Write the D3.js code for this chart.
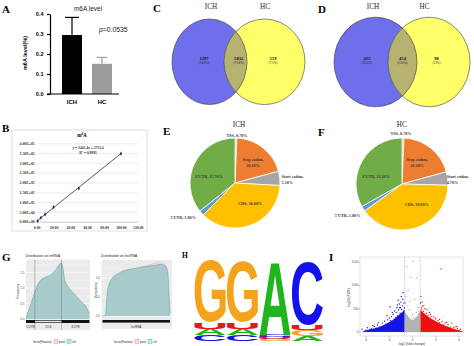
<!DOCTYPE html>
<html><head><meta charset="utf-8">
<script src="https://cdn.jsdelivr.net/npm/d3@7/dist/d3.min.js"></script>
<style>html,body{margin:0;padding:0;background:#fff}svg{display:block}</style>
</head><body>
<svg id="fig" width="474" height="346"></svg>
<script>
// ================= DATA =================
const barGroups = ["ICH", "HC"];
const barMeans = [0.295, 0.151];
const barErrTop = [0.383, 0.183];
const barTicks = [0, 0.1, 0.2, 0.3, 0.4];
const pValueText = "=0.0535";

const stdConc = [1, 5, 10, 20, 50, 100];
const stdSignal = [3500, 20000, 37000, 74000, 170000, 347000];
const stdXTicks = [0, 20, 40, 60, 80, 100, 120];
const stdYTicks = [0, 50000, 100000, 150000, 200000, 250000, 300000, 350000, 400000];
const fitSlope = 3445.4, fitIntercept = 2713.4, fitR2 = "0.9991";

const vennNames = ["ICH", "HC"];
const vennCCounts = [1297, 5832, 559];
const vennCPct = ["16.8%", "75.8%", "7.3%"];
const vennDCounts = [265, 454, 98];
const vennDPct = ["32.4%", "55.6%", "12%"];

const regionNames = ["TSS", "Stop codon", "Start codon", "CDS", "5'UTR", "3'UTR"];
const regionICH = [0.70, 20.10, 5.10, 36.60, 1.80, 35.70];
const regionHC = [0.70, 20.10, 4.70, 39.80, 1.80, 33.20];

const mrnaPos  = [0, 0.016, 0.0625, 0.114, 0.167, 0.219, 0.297, 0.375, 0.427, 0.48, 0.531, 0.558, 0.583, 0.609, 0.661, 0.739, 0.817, 0.895, 0.948, 0.984, 1];
const mrnaDens = [0.02, 0.13, 0.40, 0.72, 1.04, 1.23, 1.34, 1.41, 1.49, 1.63, 1.79, 1.81, 1.63, 1.27, 1.05, 0.86, 0.68, 0.51, 0.40, 0.24, 0.20];
const mrnaTicks = [0, 0.5, 1.0, 1.5];
const mrnaParts = ["5'UTR", "CDS", "3'UTR"];
const mrnaBounds = [0, 0.14, 0.56, 1];
const lncPos  = [0, 0.015, 0.044, 0.069, 0.093, 0.143, 0.216, 0.313, 0.46, 0.607, 0.754, 0.878, 0.94, 0.97, 0.985, 1];
const lncDens = [0, 0.0, 0.03, 0.60, 0.82, 1.00, 1.11, 1.20, 1.26, 1.30, 1.34, 1.37, 1.30, 1.10, 0.60, 0.05];
const lncPeakPos  = [0.55, 0.65, 0.75, 0.85, 0.92, 0.96];
const lncPeakDens = [1.29, 1.33, 1.38, 1.42, 1.38, 1.20];
const lncTicks = [0, 0.5, 1.0];
const legendKeys = ["peak", "ctrl"];

const logoLetters = [["C","A","U","G"], ["C","A","U","G"], ["G","U","C","A"], ["A","G","U","C"]];
const logoBits = [[0.15,0.15,0.17,1.51], [0.15,0.15,0.17,1.49], [0.05,0.05,0.05,1.78], [0.12,0.15,0.12,1.54]];

const downFC  = [-6.5,-5.8,-5.3,-4.9,-4.5,-4.2,-3.9,-3.6,-3.4,-3.2,-3.0,-2.9,-2.7,-2.5,-2.4,-2.3,-2.2,-2.1,-2.0,-1.9,-1.85,-1.8,-1.7,-1.6,-1.55,-1.5,-1.45,-1.4,-1.3,-1.25,-1.2,-1.15,-1.1,-1.05,-2.8,-2.6,-3.5,-4.0,-4.7,-5.5,-6.0,-1.35,-1.75,-2.15,-3.3,-2.6,-1.95,-1.65,-4.4,-5.1];
const downFDR = [60,90,70,120,150,100,190,230,170,260,300,540,330,380,250,450,300,420,520,350,680,470,600,400,520,640,760,480,560,700,840,450,620,520,240,210,140,110,80,50,40,380,330,260,350,420,580,520,200,140];
const upFC  = [1.05,1.1,1.2,1.3,1.4,1.5,1.6,1.8,2.0,2.2,2.4,2.7,3.0,3.3,3.7,3.8,4.2,4.6,5.1,5.5,5.8,6.2,1.15,1.7,2.5,3.5,4.0,4.9,5.3,6.0,1.25,1.45,1.9,2.3,2.9,3.5,4.4,5.7];
const upFDR = [620,760,470,560,440,380,500,400,350,420,330,330,280,240,1350,220,190,160,190,110,80,60,520,300,260,200,150,110,90,40,640,560,480,380,300,270,210,120];
const nsFC  = [0.1,-0.75,-0.2,0.6,-0.55,-0.85,-0.3,0.3,-0.6,0.7,-0.9,0.85,-0.4,0.5,0.0,-0.1,0.2,-0.7];
const nsFDR = [1520,1400,1170,1150,900,760,650,700,560,520,620,450,480,420,380,330,300,350];
const downDenseFC  = [-6.4,-6,-5,-4,-3,-2.5,-2,-1.5,-1.02];
const downDenseTop = [10,35,75,130,210,260,330,400,470];
const upDenseFC  = [1.02,1.5,2,3,4,5,6,6.5];
const upDenseTop = [460,400,330,230,150,85,35,8];
const nsDenseFC  = [-0.98,-0.5,0,0.5,0.98];
const nsDenseTop = [430,320,260,320,450];
const volcanoXTicks = [-6, -3, 0, 3, 6];
const volcanoYTicks = [0, 500, 1000, 1500];

// ================= HELPERS =================
const SANS = "Liberation Sans, Arial, sans-serif";
const SERIF = "Liberation Serif, Times New Roman, serif";
const svg = d3.select("#fig");
svg.append("rect").attr("width", 474).attr("height", 346).attr("fill", "#fff");

function txt(g, x, y, s, o = {}) {
  const t = g.append("text").attr("x", x).attr("y", y).text(s)
    .attr("font-family", o.ff || SANS).attr("font-size", o.fs || 5)
    .attr("fill", o.fill || "#000").attr("text-anchor", o.anchor || "start");
  if (o.fw) t.attr("font-weight", o.fw);
  if (o.fst) t.attr("font-style", o.fst);
  if (o.rot) t.attr("transform", `rotate(${o.rot},${x},${y})`);
  return t;
}
function panelTag(s, x, y, fs) { txt(svg, x, y, s, {ff: SERIF, fs: fs || 11, fw: "bold"}); }

// ================= PANEL A =================
(function () {
  const g = svg.append("g");
  const y = d3.scaleLinear().domain([0, 0.4]).range([94, 14]);
  const x = d3.scaleBand().domain(barGroups).range([52, 122]).paddingInner(1 / 3).paddingOuter(1 / 3);
  const fills = ["#000", "#9c9c9c"];
  g.selectAll("rect.bar").data(barGroups).join("rect").attr("class", "bar")
    .attr("x", d => x(d)).attr("width", x.bandwidth())
    .attr("y", (d, i) => y(barMeans[i])).attr("height", (d, i) => y(0) - y(barMeans[i]))
    .attr("fill", (d, i) => fills[i]);
  barGroups.forEach((d, i) => {
    const cx = x(d) + x.bandwidth() / 2;
    g.append("line").attr("x1", cx).attr("x2", cx).attr("y1", y(barMeans[i])).attr("y2", y(barErrTop[i]))
      .attr("stroke", fills[i]).attr("stroke-width", 1.2);
    const cw = i === 0 ? 7 : 5;
    g.append("line").attr("x1", cx - cw).attr("x2", cx + cw).attr("y1", y(barErrTop[i])).attr("y2", y(barErrTop[i]))
      .attr("stroke", fills[i]).attr("stroke-width", 1.2);
  });
  const ax = g.append("g").attr("transform", "translate(50,0)")
    .call(d3.axisLeft(y).tickValues(barTicks).tickFormat(d3.format(".1f")).tickSize(3).tickSizeOuter(0));
  ax.selectAll("path,line").attr("stroke", "#000").attr("stroke-width", 1.2);
  ax.selectAll("text").attr("font-family", SANS).attr("font-size", 5.5).attr("font-weight", "bold").attr("dx", -0.5);
  g.append("line").attr("x1", 47).attr("x2", 119).attr("y1", 94).attr("y2", 94).attr("stroke", "#000").attr("stroke-width", 1.2);
  const bx = g.append("g").attr("transform", "translate(0,94)").call(d3.axisBottom(x).tickSize(0));
  bx.select(".domain").remove();
  bx.selectAll("text").attr("font-family", SANS).attr("font-size", 6).attr("font-weight", "bold").attr("dy", 6.5);
  txt(g, 88, 10.5, "m6A level", {fs: 6.5, anchor: "middle", fill: "#222"});
  txt(g, 26.5, 53, "m6A level(%)", {fs: 5.5, fw: "bold", anchor: "middle", rot: -90});
  const p = txt(g, 99, 32, "", {fs: 6.8, fill: "#222"});
  p.append("tspan").attr("font-style", "italic").text("p");
  p.append("tspan").text(pValueText);
  panelTag("A", 2, 13);
})();

// ================= PANEL B =================
(function () {
  const g = svg.append("g");
  g.append("rect").attr("x", 12).attr("y", 130).attr("width", 135).attr("height", 101)
    .attr("fill", "#fff").attr("stroke", "#c8c8c8").attr("stroke-width", 0.6);
  const x = d3.scaleLinear().domain([0, 120]).range([36.7, 137.7]);
  const y = d3.scaleLinear().domain([0, 4e5]).range([221.7, 143.3]);
  const sci = v => { const [m, e] = v.toExponential(2).split("e"); return m + "E" + e[0] + e.slice(1).padStart(2, "0"); };
  const ay = g.append("g").attr("transform", `translate(${x(0)},0)`)
    .call(d3.axisLeft(y).tickValues(stdYTicks).tickFormat(sci).tickSize(-(x(120) - x(0))));
  ay.select(".domain").remove();
  ay.selectAll("line").attr("stroke", "#d9d9d9").attr("stroke-width", 0.5);
  ay.selectAll("text").attr("font-family", SERIF).attr("font-size", 3.8).attr("font-weight", "bold").attr("fill", "#333").attr("x", -2);
  const axx = g.append("g").attr("transform", `translate(0,${y(0)})`)
    .call(d3.axisBottom(x).tickValues(stdXTicks).tickFormat(d3.format(".2f")).tickSize(0));
  axx.select(".domain").attr("stroke", "#bfbfbf").attr("stroke-width", 0.6);
  axx.selectAll("text").attr("font-family", SERIF).attr("font-size", 3.8).attr("font-weight", "bold").attr("fill", "#333").attr("dy", 4.5);
  g.append("line").attr("x1", x(0)).attr("x2", x(100))
    .attr("y1", y(fitIntercept)).attr("y2", y(fitSlope * 100 + fitIntercept))
    .attr("stroke", "#111").attr("stroke-width", 0.7);
  g.selectAll("path.pt").data(stdConc).join("path").attr("class", "pt")
    .attr("d", d3.symbol().type(d3.symbolDiamond).size(5))
    .attr("transform", (d, i) => `translate(${x(d)},${y(stdSignal[i])})`)
    .attr("fill", "#1f3560");
  txt(g, 82, 136.7, "", {ff: SERIF, fs: 5.2, fw: "bold", anchor: "middle"})
    .call(t => { t.append("tspan").text("m"); t.append("tspan").text("6").attr("font-size", 3.3).attr("dy", -1.8); t.append("tspan").text("A").attr("dy", 1.8); });
  txt(g, 88, 149.3, `y = ${fitSlope}x + ${fitIntercept}`, {ff: SERIF, fs: 3.6, fw: "bold", anchor: "middle", fill: "#333"});
  txt(g, 88, 153.6, "", {ff: SERIF, fs: 3.6, fw: "bold", anchor: "middle", fill: "#333"})
    .call(t => { t.append("tspan").text("R"); t.append("tspan").text("2").attr("font-size", 2.4).attr("dy", -1.2); t.append("tspan").text(" = " + fitR2).attr("dy", 1.2); });
  panelTag("B", 2, 132);
})();

// ================= PANELS C, D (Venn) =================
function venn(o) {
  const g = svg.append("g");
  g.append("clipPath").attr("id", o.id).append("ellipse")
    .attr("cx", o.cx[1]).attr("cy", o.cy).attr("rx", o.rx[1]).attr("ry", o.ry);
  const cols = ["#6f6fec", "#ffff6a"];
  [0, 1].forEach(i => g.append("ellipse").attr("cx", o.cx[i]).attr("cy", o.cy).attr("rx", o.rx[i]).attr("ry", o.ry).attr("fill", cols[i]));
  g.append("ellipse").attr("cx", o.cx[0]).attr("cy", o.cy).attr("rx", o.rx[0]).attr("ry", o.ry)
    .attr("fill", "#b6b270").attr("clip-path", `url(#${o.id})`);
  [0, 1].forEach(i => g.append("ellipse").attr("cx", o.cx[i]).attr("cy", o.cy).attr("rx", o.rx[i]).attr("ry", o.ry)
    .attr("fill", "none").attr("stroke", "#3a3a3a").attr("stroke-width", 0.6));
  vennNames.forEach((n, i) => txt(g, o.nameX[i], 8.7, n, {ff: SERIF, fs: 7.2, anchor: "middle", fill: "#222"}));
  o.counts.forEach((c, i) => {
    txt(g, o.lx[i], 60, String(c), {ff: SERIF, fs: 4.6, fw: "bold", anchor: "middle", fill: "#111"});
    txt(g, o.lx[i], 64.3, "(" + o.pct[i] + ")", {ff: SERIF, fs: 3.2, anchor: "middle", fill: "#222"});
  });
}
venn({id: "cvC", cx: [209.5, 264.5], rx: [37.5, 40.5], cy: 61.8, ry: 42.8, nameX: [211, 265], lx: [204, 238.7, 273], counts: vennCCounts, pct: vennCPct});
venn({id: "cvD", cx: [375.5, 429], rx: [41.5, 41], cy: 62, ry: 44.8, nameX: [373, 424.5], lx: [367, 402.5, 436.5], counts: vennDCounts, pct: vennDPct});
panelTag("C", 153, 12);
panelTag("D", 318, 12.5);

// ================= PANELS E, F (Pie) =================
const pieColors = ["#b7b7b7", "#ed7d31", "#a5a5a5", "#ffc000", "#5b9bd5", "#70ad47"];
function pie(o) {
  const g = svg.append("g").attr("transform", `translate(${o.cx},${o.cy})`);
  const arcs = d3.pie().sort(null).value(d => d)(o.vals);
  const arc = d3.arc().innerRadius(0).outerRadius(o.r);
  g.selectAll("path").data(arcs).join("path").attr("d", arc)
    .attr("fill", (d, i) => pieColors[i]).attr("stroke", "#fff").attr("stroke-width", 0.8);
  o.vals.forEach((v, i) => {
    const L = o.labels[i];
    const pct = v.toFixed(2) + "%";
    const lines = (i === 1 || i === 2) ? [regionNames[i] + ",", pct] : [regionNames[i] + ", " + pct];
    lines.forEach((s, k) => txt(g, L[0], L[1] + k * 5.5, s, {ff: SERIF, fs: 4.2, fw: "bold", anchor: L[2], fill: "#3a3a3a"}));
  });
  txt(svg, o.tx, 126.7, o.title, {ff: SERIF, fs: 7.2, anchor: "middle", fill: "#222"});
}
pie({cx: 235, cy: 183, r: 45, vals: regionICH, title: "ICH", tx: 239,
  labels: [[2, -46.5, "middle"], [18, -22, "middle"], [46.5, -4.7, "start"], [15, 22, "middle"], [-52, 36.3, "middle"], [-26, -5.3, "middle"]]});
pie({cx: 402, cy: 184, r: 46, vals: regionHC, title: "HC", tx: 401.7,
  labels: [[-1, -49, "middle"], [15, -23, "middle"], [44.7, -5.7, "start"], [14.7, 21.7, "middle"], [-54.5, 32.7, "middle"], [-26, -6.3, "middle"]]});
panelTag("E", 163, 135);
panelTag("F", 318, 136);

// ================= PANEL G (Guitar density) =================
function densityPanel(o) {
  const g = svg.append("g");
  g.append("rect").attr("x", o.bx0).attr("y", o.by0).attr("width", o.bx1 - o.bx0).attr("height", o.by1 - o.by0).attr("fill", "#ebebeb");
  const x = d3.scaleLinear().domain([0, 1]).range([o.dx0, o.dx1]);
  const y = d3.scaleLinear().domain([0, 1]).range([o.base, o.base - o.ppu]);
  const minor = o.ticks.map(t => t + 0.25).filter(t => y(t) > o.by0);
  g.selectAll("line.mn").data(minor).join("line").attr("x1", o.bx0).attr("x2", o.bx1).attr("y1", d => y(d)).attr("y2", d => y(d)).attr("stroke", "#fff").attr("stroke-width", 0.3);
  g.selectAll("line.mj").data(o.ticks).join("line").attr("x1", o.bx0).attr("x2", o.bx1).attr("y1", d => y(d)).attr("y2", d => y(d)).attr("stroke", "#fff").attr("stroke-width", 0.6);
  const pts = o.pos.map((p, i) => [p, o.dens[i]]);
  g.append("path").datum(pts).attr("d", d3.area().x(d => x(d[0])).y0(y(0)).y1(d => y(d[1])).curve(d3.curveMonotoneX))
    .attr("fill", "#9fc8c7").attr("fill-opacity", 0.9);
  if (o.peakPos) {
    g.append("path").datum(o.peakPos.map((p, i) => [p, o.peakDens[i]]))
      .attr("d", d3.line().x(d => x(d[0])).y(d => y(d[1])).curve(d3.curveMonotoneX))
      .attr("fill", "none").attr("stroke", "#f3a6a0").attr("stroke-width", 0.6);
  }
  g.append("path").datum(pts).attr("d", d3.line().x(d => x(d[0])).y(d => y(d[1])).curve(d3.curveMonotoneX))
    .attr("fill", "none").attr("stroke", "#5e9696").attr("stroke-width", 0.5);
  if (o.bounds) {
    o.bounds.slice(1, -1).forEach(b => g.append("line").attr("x1", x(b)).attr("x2", x(b)).attr("y1", o.by0).attr("y2", o.by1).attr("stroke", "#7a7a7a").attr("stroke-width", 0.5));
    g.append("rect").attr("x", x(0)).attr("y", 320).attr("width", x(1) - x(0)).attr("height", 3).attr("fill", "#111");
    g.append("rect").attr("x", x(o.bounds[1])).attr("y", 320.3).attr("width", x(o.bounds[2]) - x(o.bounds[1])).attr("height", 2.4)
      .attr("fill", "#e8e8e8").attr("stroke", "#111").attr("stroke-width", 0.5);
    o.parts.forEach((s, i) => txt(g, (x(o.bounds[i]) + x(o.bounds[i + 1])) / 2, 327.6, s, {fs: 3, anchor: "middle", fill: "#333"}));
  } else {
    g.append("rect").attr("x", x(0)).attr("y", 320).attr("width", x(1) - x(0)).attr("height", 2.6).attr("fill", "#111");
    txt(g, (x(0) + x(1)) / 2, 327.6, o.single, {fs: 3, anchor: "middle", fill: "#333"});
  }
  o.ticks.forEach(t => txt(g, o.bx0 - 1.5, y(t) + 1, t.toFixed(1), {fs: 3, anchor: "end", fill: "#4d4d4d"}));
  txt(g, o.bx0 - 0.5, o.by0 - 3, o.title, {fs: 3.6, fill: "#222"});
  txt(g, o.ylx, (o.by0 + o.base) / 2 + 2, "Frequency", {fs: 3.2, anchor: "middle", rot: -90, fill: "#222"});
  const lg = g.append("g");
  txt(lg, o.lgx, 343, "factor(Feature):", {fs: 2.8, fill: "#222"});
  const cols = [["#f8766d", "#f9dcd9"], ["#00bfc4", "#c3e6e6"]];
  legendKeys.forEach((k, i) => {
    const kx = o.lgx + 21 + i * 13;
    lg.append("rect").attr("x", kx).attr("y", 339.3).attr("width", 4).attr("height", 4).attr("fill", cols[i][1]).attr("stroke", cols[i][0]).attr("stroke-width", 0.4);
    txt(lg, kx + 5, 342.6, k, {fs: 2.8, fill: "#222"});
  });
}
densityPanel({bx0: 26, bx1: 90, by0: 259.5, by1: 330, dx0: 26, dx1: 89.5, base: 319, ppu: 30.9,
  pos: mrnaPos, dens: mrnaDens, ticks: mrnaTicks, bounds: mrnaBounds, parts: mrnaParts,
  title: "Distribution on mRNA", ylx: 18.5, lgx: 33});
densityPanel({bx0: 101.5, bx1: 172, by0: 260, by1: 329, dx0: 102.5, dx1: 170, base: 316, ppu: 37.7,
  pos: lncPos, dens: lncDens, ticks: lncTicks, single: "lncRNA", peakPos: lncPeakPos, peakDens: lncPeakDens,
  title: "Distribution on lncRNA", ylx: 96.5, lgx: 114});
panelTag("G", 2, 261);

// ================= PANEL H (sequence logo) =================
(function () {
  const g = svg.append("g");
  const colors = {G: "#f5a31c", A: "#1fb51f", C: "#1212ee", U: "#e8161b"};
  const x = d3.scaleBand().domain(d3.range(logoLetters.length)).range([194.5, 323]).paddingInner(0.04);
  const y = d3.scaleLinear().domain([0, 2]).range([341, 259]);
  const ctx = document.createElement("canvas").getContext("2d");
  ctx.font = "bold 100px 'Liberation Sans'";
  logoLetters.forEach((col, i) => {
    let base = 0;
    col.forEach((L, j) => {
      const h = logoBits[i][j];
      const yb = y(base), yt = y(base + h);
      base += h;
      const m = ctx.measureText(L);
      const abl = m.actualBoundingBoxLeft, abr = m.actualBoundingBoxRight;
      const asc = m.actualBoundingBoxAscent, desc = m.actualBoundingBoxDescent;
      const sx = x.bandwidth() / (abl + abr), sy = (yb - yt) / (asc + desc);
      g.append("text").text(L).attr("font-family", "Liberation Sans").attr("font-weight", "bold").attr("font-size", 100)
        .attr("fill", colors[L])
        .attr("transform", `translate(${x(i) + abl * sx},${yb - desc * sy}) scale(${sx},${sy})`);
    });
  });
  panelTag("H", 182, 258, 7.5);
})();

// ================= PANEL I (volcano) =================
(function () {
  const g = svg.append("g");
  const x = d3.scaleLinear().domain([-6.77, 6.52]).range([360, 463]);
  const y = d3.scaleLinear().domain([-86, 1607]).range([336, 257]);
  g.append("rect").attr("x", 360).attr("y", 257).attr("width", 103).attr("height", 79).attr("fill", "#fff").attr("stroke", "#c9c9c9").attr("stroke-width", 0.5);
  const area = d3.area().x(d => x(d[0])).y0(y(0)).y1(d => y(d[1])).curve(d3.curveMonotoneX);
  const dense = (fc, top, col) => g.append("path").datum(fc.map((v, i) => [v, top[i]])).attr("d", area).attr("fill", col);
  dense(nsDenseFC, nsDenseTop, "#b3b3b3");
  dense(downDenseFC, downDenseTop, "#1414e6");
  dense(upDenseFC, upDenseTop, "#ee1010");
  const dots = (fc, fdr, col) => g.selectAll(null).data(fc).join("circle")
    .attr("cx", d => x(d)).attr("cy", (d, i) => y(fdr[i])).attr("r", 0.7).attr("fill", col);
  dots(nsFC, nsFDR, "#a9a9a9");
  dots(downFC, downFDR, "#1414e6");
  dots(upFC, upFDR, "#ee1010");
  [-1, 1].forEach(v => g.append("line").attr("x1", x(v)).attr("x2", x(v)).attr("y1", 257).attr("y2", 336)
    .attr("stroke", "#8a8a8a").attr("stroke-width", 0.5).attr("stroke-dasharray", "1.2,1"));
  g.append("line").attr("x1", 360).attr("x2", 463).attr("y1", y(1.3)).attr("y2", y(1.3))
    .attr("stroke", "#8a8a8a").attr("stroke-width", 0.5).attr("stroke-dasharray", "1.2,1");
  volcanoXTicks.forEach(t => {
    g.append("line").attr("x1", x(t)).attr("x2", x(t)).attr("y1", 336).attr("y2", 337.3).attr("stroke", "#555").attr("stroke-width", 0.4);
    txt(g, x(t), 340.5, String(t), {fs: 3, anchor: "middle", fill: "#555"});
  });
  volcanoYTicks.forEach(t => {
    g.append("line").attr("x1", 358.7).attr("x2", 360).attr("y1", y(t)).attr("y2", y(t)).attr("stroke", "#555").attr("stroke-width", 0.4);
    txt(g, 358.3, y(t) + 1, String(t), {fs: 3, anchor: "end", fill: "#555"});
  });
  txt(g, 412, 344.8, "log2 (fold change)", {fs: 3.3, anchor: "middle", fill: "#333"});
  txt(g, 349.5, 298, "-log10 (FDR)", {fs: 3.3, anchor: "middle", rot: -90, fill: "#333"});
  panelTag("I", 329, 261);
})();
</script>
</body></html>
